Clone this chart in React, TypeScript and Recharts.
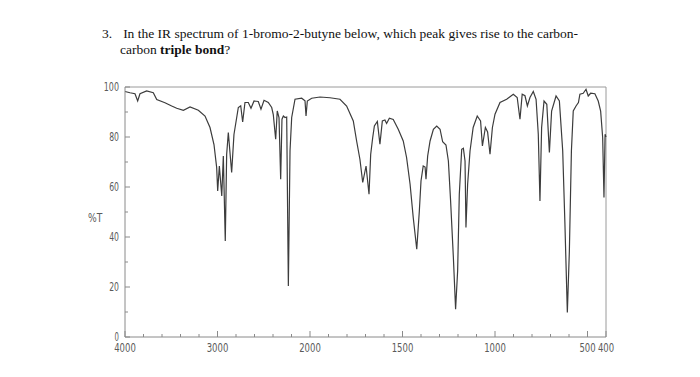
import { LineChart, Line, XAxis, YAxis, ReferenceLine } from 'recharts'

// cm-1 and %T
const wavenumbers = [
  4000, 3946, 3892, 3863, 3838, 3766, 3694, 3657, 3568, 3495, 3441, 3369, 3297, 3207, 3135, 3081,
  3038, 3009, 2998, 2980, 2954, 2937, 2916, 2901, 2883, 2847, 2822, 2775, 2749, 2728, 2703, 2667,
  2638, 2605, 2559, 2530, 2497, 2451, 2414, 2397, 2371, 2354, 2335, 2317, 2303, 2288, 2270, 2252,
  2234, 2216, 2198, 2162, 2090, 2054, 2043, 2029, 1991, 1946, 1892, 1838, 1802, 1766, 1748, 1730,
  1715, 1697, 1681, 1672, 1661, 1652, 1636, 1622, 1609, 1595, 1586, 1571, 1550, 1523, 1496, 1478,
  1459, 1442, 1423, 1409, 1400, 1388, 1378, 1373, 1364, 1351, 1333, 1315, 1297, 1283, 1265, 1252,
  1240, 1225, 1213, 1202, 1193, 1180, 1171, 1162, 1157, 1148, 1135, 1118, 1096, 1078, 1068, 1052,
  1040, 1027, 1014, 1000, 973, 937, 901, 880, 865, 853, 838, 825, 811, 793, 778, 766,
  757, 748, 735, 720, 706, 694, 670, 652, 634, 622, 609, 598, 587, 577, 562, 549,
  541, 523, 508, 496, 483, 460, 442, 429, 418, 411, 405, 400,
]
const transmittance = [
  98.2, 97.7, 97.3, 94.4, 97.3, 98.4, 97.7, 95.0, 93.7, 92.4, 91.5, 90.7, 92.0, 90.7, 88.4, 83.8,
  77.0, 67.8, 58.4, 68.4, 56.4, 72.4, 38.4, 73.0, 81.8, 65.8, 81.0, 91.8, 92.5, 86.0, 93.8, 93.8,
  91.5, 94.4, 94.2, 91.1, 94.7, 93.8, 91.8, 89.0, 79.1, 90.4, 87.8, 63.1, 87.1, 88.4, 87.8, 88.0,
  20.4, 74.4, 87.8, 95.1, 95.5, 94.5, 88.4, 94.4, 95.5, 96.0, 95.7, 95.1, 92.4, 86.4, 78.4, 71.0,
  61.8, 68.4, 57.1, 73.0, 79.8, 84.4, 86.2, 77.1, 86.4, 86.8, 85.4, 87.5, 87.0, 83.1, 78.4, 71.8,
  61.1, 47.8, 35.1, 50.4, 62.4, 68.4, 68.0, 63.1, 72.4, 78.4, 83.1, 84.4, 83.1, 78.1, 76.8, 70.4,
  54.4, 31.8, 11.1, 26.4, 57.1, 75.1, 75.5, 70.4, 43.8, 61.1, 74.4, 83.8, 88.4, 86.4, 76.4, 83.8,
  82.0, 73.1, 83.8, 89.1, 93.8, 95.1, 97.1, 95.8, 87.1, 97.1, 96.5, 92.4, 95.8, 98.2, 95.1, 81.1,
  54.4, 83.8, 94.4, 93.1, 73.8, 90.4, 96.4, 94.4, 74.4, 45.1, 9.8, 34.4, 74.4, 90.4, 92.4, 93.8,
  97.1, 97.5, 99.1, 96.4, 97.5, 97.3, 94.4, 90.4, 79.8, 55.8, 81.1, 80.0,
]

const xTickLabels = [4000, 3000, 2000, 1500, 1000, 500, 400]
const yTickLabels = [0, 20, 40, 60, 80, 100]

// chart paper doubles its scale below 2000 cm-1
const toAxis = (w: number) => (w >= 2000 ? (4000 - w) / 1000 : 2 + (2000 - w) / 500)
const fromAxis = (u: number) => Math.round(u <= 2 ? 4000 - u * 1000 : 2000 - (u - 2) * 500)

const data = wavenumbers.map((w, i) => ({ pos: toAxis(w), t: transmittance[i] }))

const xTicks: number[] = []
for (let w = 4000; w > 2000; w -= 200) xTicks.push(toAxis(w))
for (let w = 2000; w >= 400; w -= 100) xTicks.push(toAxis(w))
const yTicks: number[] = []
for (let v = 0; v <= 100; v += 10) yTicks.push(v)

const axisFont = '"DejaVu Sans Condensed", "DejaVu Sans", sans-serif'
const labelColor = '#5a5a5a'
const axisColor = '#8a8a8a'
// the scan uses a narrow face, squeeze the digits to match
const narrow = (s: string) => s.length * 5.4

function XTick(props: any) {
  const { x, y, payload } = props
  const w = fromAxis(payload.value)
  const major = xTickLabels.includes(w)
  return (
    <g>
      <line x1={x} x2={x} y1={y} y2={y - (major ? 6 : 3)} stroke={axisColor} />
      {major && (
        <text
          x={x}
          y={y + 15}
          textAnchor="middle"
          fill={labelColor}
          fontSize={12}
          fontFamily={axisFont}
          textLength={narrow(String(w))}
          lengthAdjust="spacingAndGlyphs"
        >
          {w}
        </text>
      )}
    </g>
  )
}

function YTick(props: any) {
  const { x, y, payload } = props
  const major = yTickLabels.includes(payload.value)
  return (
    <g>
      <line x1={x} x2={x + (major ? 5 : 3)} y1={y} y2={y} stroke={axisColor} />
      {major && (
        <text
          x={x - 6}
          y={y + 4}
          textAnchor="end"
          fill={labelColor}
          fontSize={12}
          fontFamily={axisFont}
          textLength={narrow(String(payload.value)) - 1}
          lengthAdjust="spacingAndGlyphs"
        >
          {payload.value}
        </text>
      )}
    </g>
  )
}

export default function App() {
  return (
    <div style={{ position: 'absolute', left: 0, top: 0, width: 700, height: 377, background: '#fff' }}>
      <div
        style={{
          position: 'absolute',
          left: 102,
          top: 26,
          fontFamily: '"Liberation Serif", serif',
          fontSize: 13.5,
          lineHeight: '16px',
          color: '#111',
          whiteSpace: 'nowrap',
        }}
      >
        <div>
          3.<span style={{ display: 'inline-block', width: 11 }} />
          In the IR spectrum of 1-bromo-2-butyne below, which peak gives rise to the carbon-
        </div>
        <div style={{ paddingLeft: 18 }}>
          carbon <b>triple bond</b>?
        </div>
      </div>
      <div
        style={{
          position: 'absolute',
          left: 88,
          top: 211,
          fontFamily: axisFont,
          fontSize: 12,
          color: labelColor,
          transform: 'scaleX(0.85)',
          transformOrigin: 'left center',
        }}
      >
        %T
      </div>
      <LineChart width={700} height={377} data={data} margin={{ top: 87, right: 94, bottom: 15, left: 85 }}>
        <XAxis
          type="number"
          dataKey="pos"
          domain={[0, 5.2]}
          ticks={xTicks}
          interval={0}
          tick={(p: any) => <XTick {...p} />}
          tickLine={false}
          tickSize={0}
          tickMargin={0}
          height={25}
          stroke={axisColor}
        />
        <YAxis
          type="number"
          domain={[0, 100]}
          ticks={yTicks}
          interval={0}
          tick={(p: any) => <YTick {...p} />}
          tickLine={false}
          tickSize={0}
          tickMargin={0}
          width={40}
          stroke={axisColor}
        />
        <ReferenceLine y={100} stroke="#9a9a9a" />
        <ReferenceLine x={5.2} stroke="#9a9a9a" />
        <Line
          type="linear"
          dataKey="t"
          stroke="#3c3c3c"
          strokeWidth={1.2}
          dot={false}
          isAnimationActive={false}
        />
      </LineChart>
    </div>
  )
}
